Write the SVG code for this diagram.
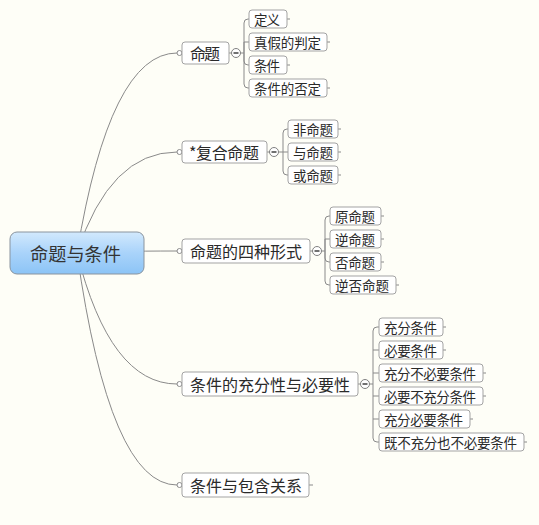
<svg xmlns="http://www.w3.org/2000/svg" width="539" height="525" viewBox="0 0 539 525">
<defs>
<linearGradient id="cg" x1="0" y1="0" x2="0" y2="1">
<stop offset="0" stop-color="#d2e9fd"/>
<stop offset="0.5" stop-color="#a9d3fa"/>
<stop offset="1" stop-color="#8cc4f6"/>
</linearGradient>
</defs>
<style>
.bg{fill:#fefef7}
.ln{fill:none;stroke:#8a8a8a;stroke-width:1}
.dot{fill:#ffffff;stroke:#8a8a8a;stroke-width:1}
.box{fill:#ffffff;stroke:#a3a3a3;stroke-width:1}
.cbox{fill:url(#cg);stroke:#8a949e;stroke-width:1}
.col{fill:#ffffff;stroke:#808080;stroke-width:1}
.minus{stroke:#222;stroke-width:1.3}
text{font-family:"Noto Sans CJK SC","Noto Sans CJK TC",sans-serif;fill:#2a2a2a;dominant-baseline:central}
.t1{font-size:16px}
.t2{font-size:13.5px}
.t0{font-size:18px;fill:#333}
</style>
<rect class="bg" x="0" y="0" width="539" height="525"/>

<g id="connectors">
<path class="ln" d="M77,253 Q110,53 177,53"/>
<path class="ln" d="M77,253 Q110,152 177,152"/>
<path class="ln" d="M77,253 Q110,251 177,251"/>
<path class="ln" d="M77,253 Q110,384 177,384"/>
<path class="ln" d="M77,253 Q110,485 177,485"/>
<circle class="dot" cx="179.5" cy="53" r="2.5"/>
<circle class="dot" cx="179.5" cy="152" r="2.5"/>
<circle class="dot" cx="179.5" cy="251" r="2.5"/>
<circle class="dot" cx="179.5" cy="384" r="2.5"/>
<circle class="dot" cx="179.5" cy="485" r="2.5"/>

<path class="ln" d="M229,53 H232 M240.5,53 H244 M244,53 V23 Q244,19 248,19 H249 M244,42 H249 M244,53 V61 Q244,65 248,65 H249 M244,53 V84 Q244,88 248,88 H249"/>
<path class="ln" d="M244,42 V53"/>
<path class="ln" d="M267,152 H270 M278.5,152 H283 M283,152 V133 Q283,129 287,129 H288 M283,152 H288 M283,152 V171 Q283,175 287,175 H288"/>
<path class="ln" d="M310,251 H313 M321.5,251 H325 M325,251 V220 Q325,216 329,216 H330 M325,239 H330 M325,251 V258 Q325,262 329,262 H330 M325,251 V281 Q325,285 329,285 H330 M325,239 V251"/>
<path class="ln" d="M358,384 H361 M369.5,384 H373 M373,384 V331 Q373,327 377,327 H379 M373,350 H379 M373,373 H379 M373,396 H379 M373,419 H379 M373,384 V438 Q373,442 377,442 H379"/>

<path class="ln" d="M287,19 H290 M327,42 H330 M287,65 H290 M327,88 H330 M338,129 H341 M338,152 H341 M338,175 H341 M381,216 H384 M381,239 H384 M381,262 H384 M396,285 H399 M443,327 H446 M443,350 H446 M483,373 H486 M483,396 H486 M470,419 H473 M524,442 H527 M309,485 H313"/>
</g>

<g id="center">
<rect class="cbox" x="10" y="232" width="134" height="42" rx="7"/>
<text class="t0" x="30" y="253" textLength="91" lengthAdjust="spacingAndGlyphs">命题与条件</text>
</g>

<g id="n1">
<rect class="box" x="182" y="42" width="47" height="22" rx="3"/>
<text class="t1" x="190" y="53" textLength="30">命题</text>
<circle class="col" cx="236" cy="53" r="4.5"/><path class="minus" d="M233.5,53 H238.5"/>
</g>
<g id="n1a"><rect class="box" x="249" y="10" width="38" height="18" rx="3"/><text class="t2" x="254" y="19" textLength="26">定义</text></g>
<g id="n1b"><rect class="box" x="249" y="33" width="78" height="18" rx="3"/><text class="t2" x="254" y="42" textLength="67">真假的判定</text></g>
<g id="n1c"><rect class="box" x="249" y="56" width="38" height="18" rx="3"/><text class="t2" x="254" y="65" textLength="26">条件</text></g>
<g id="n1d"><rect class="box" x="249" y="79" width="78" height="18" rx="3"/><text class="t2" x="254" y="88" textLength="67">条件的否定</text></g>

<g id="n2">
<rect class="box" x="182" y="141" width="85" height="22" rx="3"/>
<text class="t1" x="189" y="152" textLength="70">*复合命题</text>
<circle class="col" cx="274" cy="152" r="4.5"/><path class="minus" d="M271.5,152 H276.5"/>
</g>
<g id="n2a"><rect class="box" x="288" y="120" width="50" height="18" rx="3"/><text class="t2" x="293" y="129" textLength="40">非命题</text></g>
<g id="n2b"><rect class="box" x="288" y="143" width="50" height="18" rx="3"/><text class="t2" x="293" y="152" textLength="40">与命题</text></g>
<g id="n2c"><rect class="box" x="288" y="166" width="50" height="18" rx="3"/><text class="t2" x="293" y="175" textLength="40">或命题</text></g>

<g id="n3">
<rect class="box" x="182" y="239" width="128" height="24" rx="3"/>
<text class="t1" x="190" y="251" textLength="112">命题的四种形式</text>
<circle class="col" cx="317" cy="251" r="4.5"/><path class="minus" d="M314.5,251 H319.5"/>
</g>
<g id="n3a"><rect class="box" x="330" y="207" width="51" height="18" rx="3"/><text class="t2" x="335" y="216" textLength="40">原命题</text></g>
<g id="n3b"><rect class="box" x="330" y="230" width="51" height="18" rx="3"/><text class="t2" x="335" y="239" textLength="40">逆命题</text></g>
<g id="n3c"><rect class="box" x="330" y="253" width="51" height="18" rx="3"/><text class="t2" x="335" y="262" textLength="40">否命题</text></g>
<g id="n3d"><rect class="box" x="330" y="276" width="66" height="18" rx="3"/><text class="t2" x="335" y="285" textLength="54">逆否命题</text></g>

<g id="n4">
<rect class="box" x="182" y="372" width="176" height="24" rx="3"/>
<text class="t1" x="190" y="384" textLength="160">条件的充分性与必要性</text>
<circle class="col" cx="365" cy="384" r="4.5"/><path class="minus" d="M362.5,384 H367.5"/>
</g>
<g id="n4a"><rect class="box" x="379" y="318" width="64" height="18" rx="3"/><text class="t2" x="384" y="327" textLength="53">充分条件</text></g>
<g id="n4b"><rect class="box" x="379" y="341" width="64" height="18" rx="3"/><text class="t2" x="384" y="350" textLength="53">必要条件</text></g>
<g id="n4c"><rect class="box" x="379" y="364" width="104" height="18" rx="3"/><text class="t2" x="384" y="373" textLength="92">充分不必要条件</text></g>
<g id="n4d"><rect class="box" x="379" y="387" width="104" height="18" rx="3"/><text class="t2" x="384" y="396" textLength="92">必要不充分条件</text></g>
<g id="n4e"><rect class="box" x="379" y="410" width="91" height="18" rx="3"/><text class="t2" x="384" y="419" textLength="79">充分必要条件</text></g>
<g id="n4f"><rect class="box" x="379" y="433" width="145" height="18" rx="3"/><text class="t2" x="384" y="442" textLength="133">既不充分也不必要条件</text></g>

<g id="n5">
<rect class="box" x="182" y="473" width="127" height="24" rx="3"/>
<text class="t1" x="190" y="485" textLength="112">条件与包含关系</text>
</g>
</svg>
